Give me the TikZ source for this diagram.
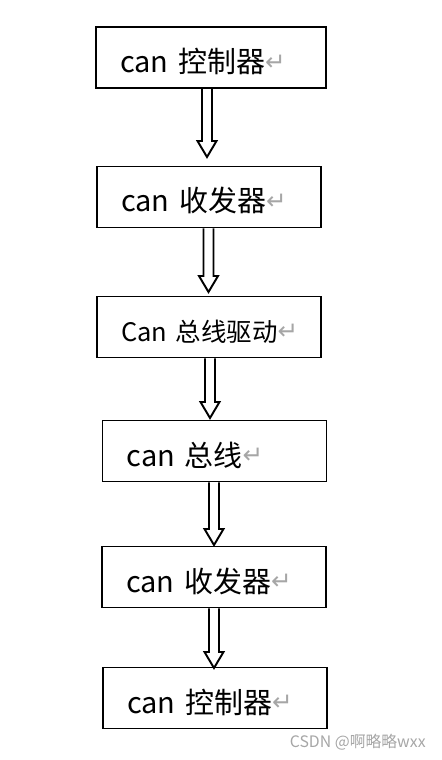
\documentclass[tikz,border=0pt]{standalone}
\usepackage{fontspec}
\setmainfont{Noto Sans CJK SC}
\newfontfamily\symfont{DejaVu Sans}
\usepackage{xcolor}
\usetikzlibrary{positioning}
\newcommand{\retmark}{\raisebox{0.08em}{\symfont\color{gray!70}\fontsize{14}{16}\selectfont ↵}}

\begin{document}
\begin{tikzpicture}[x=0.02cm, y=-0.02cm,
    box/.style={rectangle, draw, line width=1.1pt, minimum height=1.22cm, inner xsep=0.48cm,
        text width=3.52cm, align=left, text height=0.6cm, text depth=0pt, font=\fontsize{16.5}{19}\selectfont},
    hollow/.style={draw, line width=1.1pt, line join=miter, to path={
        ([xshift=-0.1cm]\tikztostart) -- ([xshift=-0.1cm,yshift=0.32cm]\tikztotarget)
        -- ([xshift=-0.19cm,yshift=0.32cm]\tikztotarget) -- (\tikztotarget)
        -- ([xshift=0.19cm,yshift=0.32cm]\tikztotarget) -- ([xshift=0.1cm,yshift=0.32cm]\tikztotarget)
        -- ([xshift=0.1cm]\tikztostart)}}
]
\useasboundingbox (0,0) rectangle (441,760);

% Components
\node[box, text width=3.64cm] (ctrlA) at (211,57.5) {can 控制器\retmark};
\node[box] (xcvrA) at (209,197) {can 收发器\retmark};
\node[box, font=\fontsize{14.5}{17}\selectfont] (drv) at (209,327) {\mbox{Can 总线驱动\retmark}};
\node[box] (bus) at (214.5,451) {can 总线\retmark};
\node[box] (xcvrB) at (214,577) {can 收发器\retmark};
\node[box] (ctrlB) at (215,698) {can 控制器\retmark};

% Arrow tips
\coordinate (t1) at (207,157);
\coordinate (t2) at (208.5,292);
\coordinate (t3) at (210,418);
\coordinate (t4) at (214,545);
\coordinate (t5) at (214,668);

% Arrows
\draw[hollow] (ctrlA.south -| t1) to (t1);
\draw[hollow] (xcvrA.south -| t2) to (t2);
\draw[hollow] (drv.south -| t3) to (t3);
\draw[hollow] (bus.south -| t4) to (t4);
\draw[hollow] (xcvrB.south -| t5) to (t5);

% Watermark
\node[font=\fontsize{9}{11}\selectfont, text=gray!70, anchor=east, inner sep=0pt] (wmark) at (426,742) {CSDN @啊略略wxx};

\end{tikzpicture}
\end{document}
